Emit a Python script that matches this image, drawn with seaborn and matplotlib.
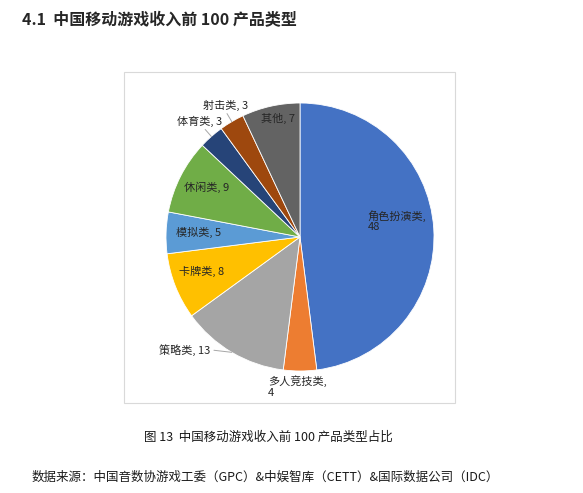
import numpy as np
import matplotlib
matplotlib.use("Agg")
import matplotlib.pyplot as plt
import matplotlib.patches as mpatches
import seaborn as sns

categories = ["角色扮演类", "多人竞技类", "策略类", "卡牌类", "模拟类",
              "休闲类", "体育类", "射击类", "其他"]
counts = [48, 4, 13, 8, 5, 9, 3, 3, 7]

title = "4.1  中国移动游戏收入前 100 产品类型"
caption = "图 13  中国移动游戏收入前 100 产品类型占比"
source = "数据来源：中国音数协游戏工委（GPC）&中娱智库（CETT）&国际数据公司（IDC）"

# label placement: nudge from slice mid-angle (deg, clockwise), radius, alignment
label_nudge = [-9.6, 12.1, 7.9, 2.1, 1.0, 0.8, 0.4, 1.0, 2.0]
label_radius = [0.52, 1.14, 1.08, 0.78, 0.76, 0.79, 1.14, 1.13, 0.90]
label_ha = ["left", "left", "right", "center", "center", "center", "center", "center", "center"]
leader = [False, False, True, False, False, False, True, True, False]

sns.set_theme(style="white")
plt.rcParams["font.family"] = ["Noto Sans CJK SC", "DejaVu Sans"]

colors = sns.color_palette(["#4472C4", "#ED7D31", "#A5A5A5", "#FFC000", "#5B9BD5",
                            "#70AD47", "#264478", "#9E480E", "#636363"])

W, H = 583, 493
fig = plt.figure(figsize=(W / 100, H / 100), dpi=100)

# chart frame
fig.patches.append(mpatches.Rectangle((124 / W, 1 - 403 / H), 331 / W, 331 / H,
                                      transform=fig.transFigure, fill=False,
                                      edgecolor="#D9D9D9", linewidth=0.8))

cx, cy, R = 300, 237, 134
span = 1.5
ax = fig.add_axes([(cx - span * R) / W, (H - cy - span * R) / H, 2 * span * R / W, 2 * span * R / H])
ax.pie(counts, colors=colors, startangle=90, counterclock=False, radius=1,
       wedgeprops=dict(edgecolor="white", linewidth=0.6))
ax.set_xlim(-span, span)
ax.set_ylim(-span, span)
ax.set_aspect("equal")
ax.axis("off")

total = sum(counts)
cum = np.cumsum([0] + counts[:-1])
for i, (name, v) in enumerate(zip(categories, counts)):
    mid = (cum[i] + v / 2) / total * 360
    a = np.radians(mid + label_nudge[i])
    x, y = label_radius[i] * np.sin(a), label_radius[i] * np.cos(a)
    txt = f"{name},\n{v}" if i in (0, 1) else f"{name}, {v}"
    ax.text(x, y, txt, ha=label_ha[i], va="center", fontsize=8, color="#262626",
            multialignment="left", linespacing=1.1)
    if leader[i]:
        m = np.radians(mid)
        ex, ey = np.sin(m), np.cos(m)
        if label_ha[i] == "right":
            ax.plot([ex, x + 0.03], [ey, y], color="#A6A6A6", lw=0.7)
        else:
            ax.plot([ex * 1.0, ex * 1.07], [ey * 1.0, ey * 1.07], color="#A6A6A6", lw=0.7)

fig.text(22 / W, 1 - 20 / H, title, fontsize=11.5, fontweight="bold", va="center", ha="left")
fig.text(268 / W, 1 - 437 / H, caption, fontsize=9, va="center", ha="center", color="#1a1a1a")
fig.text(265 / W, 1 - 477 / H, source, fontsize=9, va="center", ha="center", color="#1a1a1a")

fig.savefig("out.png", dpi=100)
